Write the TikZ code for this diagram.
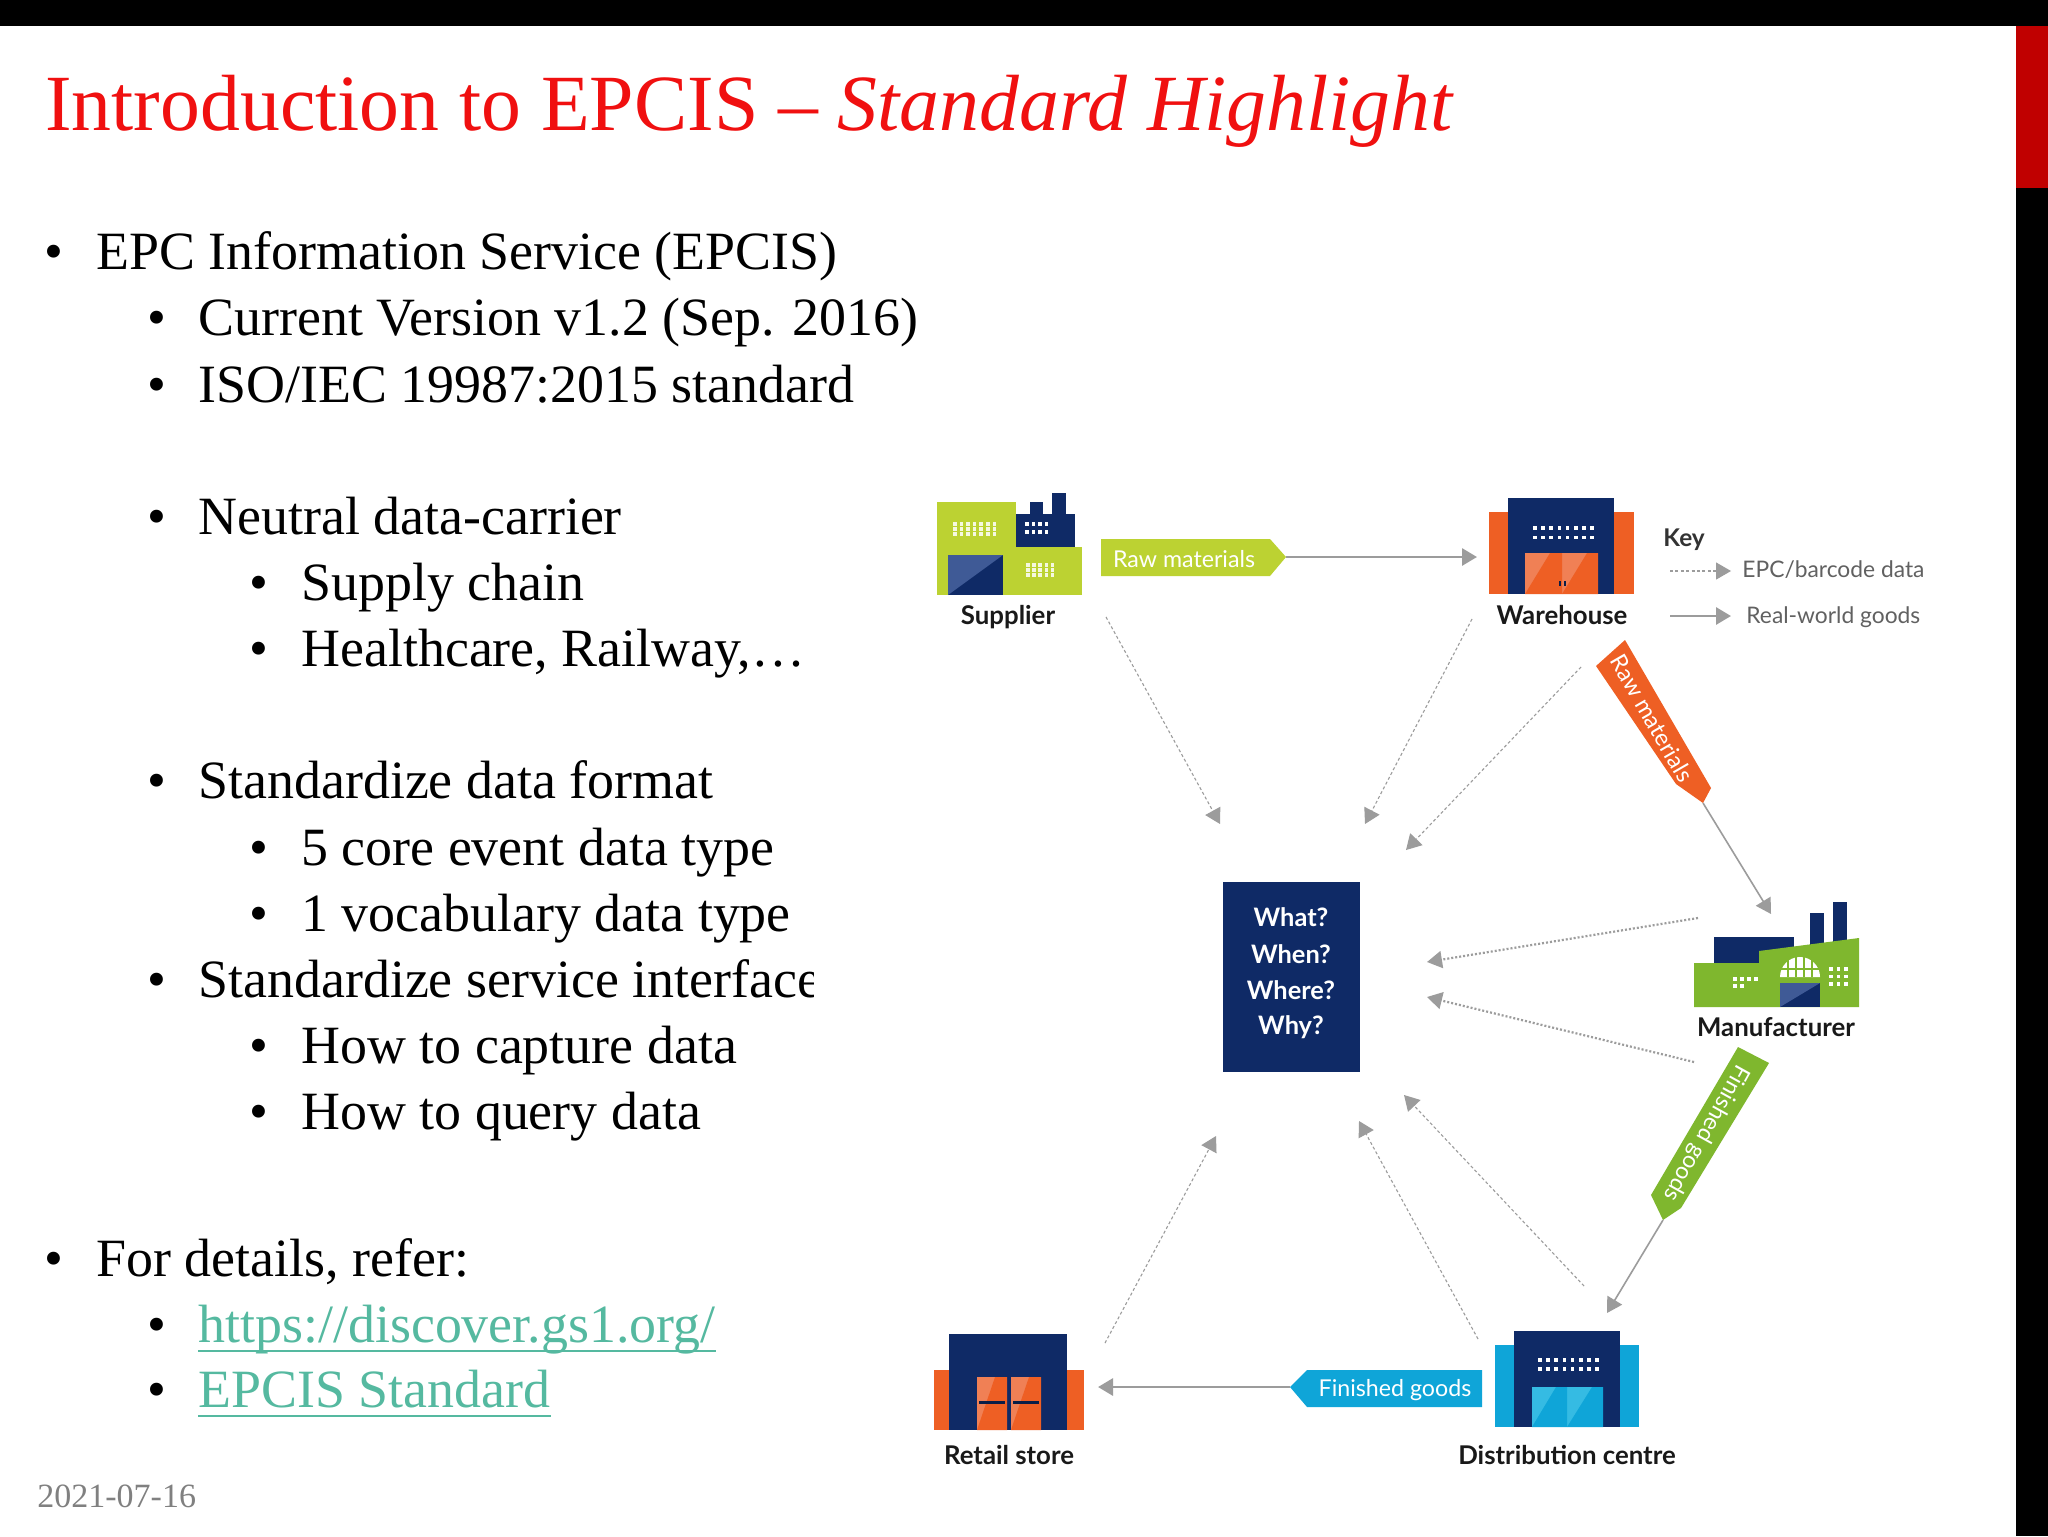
\documentclass[tikz,border=0pt]{standalone}
\usepackage{fontspec}
\setmainfont{Liberation Serif}
\newfontfamily\diag{Lato}
\usetikzlibrary{arrows.meta}
\definecolor{slidered}{HTML}{C00000}
\definecolor{titlered}{HTML}{F01010}
\definecolor{linkteal}{HTML}{55B9A0}
\definecolor{navy}{HTML}{0F2A66}
\definecolor{lime}{HTML}{BCD232}
\definecolor{leaf}{HTML}{7FB72E}
\definecolor{orng}{HTML}{EE5F24}
\definecolor{orngl}{HTML}{F08055}
\definecolor{sky}{HTML}{0FA5D8}
\definecolor{skyl}{HTML}{35BBE3}
\definecolor{doorl}{HTML}{3F5A96}
\definecolor{arrgray}{HTML}{9C9C9C}
\newcommand{\wingrid}[7]{\foreach \ix in {1,...,#3}{\foreach \iy in {1,...,#4}{
  \fill[#7] ({#1+(\ix-1)*#5},{#2+(\iy-1)*#6}) rectangle ++(3.6,3.6);}}}
\tikzset{
  x=0.5pt,y=-0.5pt,
  bodytext/.style={anchor=base west,inner sep=0pt,font=\fontsize{26.95}{27}\selectfont,text=black},
  bul/.style={anchor=base,inner sep=0pt,font=\fontsize{26.95}{27}\selectfont},
  linktext/.style={bodytext,text=linkteal},
  linkrule/.style={draw=linkteal,line width=1pt},
  lbl/.style={inner sep=0pt,font=\diag\bfseries\fontsize{12.9}{13}\selectfont,text=black!90},
  keytext/.style={inner sep=0pt,anchor=west,font=\diag\fontsize{11.4}{12}\selectfont,text=black!62},
  tagtext/.style={inner sep=0pt,font=\diag\fontsize{11.6}{12}\selectfont,text=white},
  qtext/.style={inner sep=0pt,font=\diag\bfseries\fontsize{12.7}{13}\selectfont,text=white},
  goods/.style={draw=arrgray,line width=1.4pt,-{Triangle[length=7.5pt,width=8.5pt]}},
  goodsthin/.style={draw=arrgray,line width=0.8pt,-{Triangle[length=7.5pt,width=8.5pt]}},
  epc/.style={draw=arrgray,line width=0.55pt,dash pattern=on 1.5pt off 1.2pt,-{Triangle[length=7.5pt,width=8.5pt]}},
  epcbold/.style={draw=arrgray,line width=1.1pt,dash pattern=on 1pt off 1pt,-{Triangle[length=7.5pt,width=8.5pt]}},
}
\begin{document}
\begin{tikzpicture}
\useasboundingbox (0,0) rectangle (2048,1536);
\fill[white] (0,0) rectangle (2048,1536);
% slide frame
\fill[black] (0,0) rectangle (2048,26);
\fill[black] (2016,0) rectangle (2048,1536);
\fill[slidered] (2016,26) rectangle (2048,188);
% title
\node[anchor=base west,inner sep=0pt,text=titlered,font=\fontsize{39.85}{42}\selectfont] (title) at (45,131) {Introduction to EPCIS -- \textit{Standard Highlight}};
% bullets
\foreach \bx/\by in {54/269,157/335,157/402,157/534,259/600,259/666,157/798,259/865,259/931,157/997,259/1063,259/1129,54/1276,157/1342,157/1407}{
  \node[bul] at (\bx,\by) {•};
}
\node[bodytext] (l1) at (96,269) {EPC Information Service (EPCIS)};
\node[bodytext] (l2) at (198,335) {Current Version v1.2 (Sep. 2016)};
\node[bodytext] (l3) at (198,402) {ISO/IEC 19987:2015 standard};
\node[bodytext] (l4) at (198,534) {Neutral data-carrier};
\node[bodytext] (l5) at (301,600) {Supply chain};
\node[bodytext] (l6) at (301,666) {Healthcare, Railway,\dots};
\node[bodytext] (l7) at (198,798) {Standardize data format};
\node[bodytext] (l8) at (301,865) {5 core event data type};
\node[bodytext] (l9) at (301,931) {1 vocabulary data type};
\begin{scope}
\clip (190,950) rectangle (813,1020);
\node[bodytext] (l10) at (198,997) {Standardize service interface};
\end{scope}
\node[bodytext] (l11) at (301,1063) {How to capture data};
\node[bodytext] (l12) at (301,1129) {How to query data};
\node[bodytext] (l13) at (96,1276) {For details, refer:};
\node[linktext] (l14) at (198,1342) {https://discover.gs1.org/};
\node[linktext] (l15) at (198,1407) {EPCIS Standard};
\draw[linkrule] ([yshift=-4.5pt]l14.base west) -- ([yshift=-4.5pt]l14.base east);
\draw[linkrule] ([yshift=-4.5pt]l15.base west) -- ([yshift=-4.5pt]l15.base east);
\node[anchor=base west,inner sep=0pt,text=black!50,font=\fontsize{17}{17}\selectfont] (date) at (37,1507) {2021-07-16};

% Supplier
\fill[lime] (937,502) rectangle (1016,595);
\fill[lime] (1016,547) rectangle (1082,595);
\fill[navy] (1016,514) rectangle (1075,547);
\fill[navy] (1030,502) rectangle (1043,514);
\fill[navy] (1052,493) rectangle (1066,514);
\fill[navy] (948,555) rectangle (1003,595);
\fill[doorl] (948,555) -- (1003,555) -- (948,595) -- cycle;
\wingrid{953}{522}{7}{3}{6.6}{5}{white!85!lime}
\wingrid{1025}{522}{4}{2}{6.6}{8}{white}
\wingrid{1026}{563}{5}{3}{6.2}{5}{white!85!lime}
\node[lbl] (supplier) at (1008,617) {Supplier};
% Warehouse
\fill[orng] (1489,512) rectangle (1634,594);
\fill[navy] (1508,498) rectangle (1614,594);
\fill[orngl] (1525,553) rectangle (1598,594);
\fill[orng] (1525,594) -- (1550,553) -- (1562,553) -- (1562,594) -- cycle;
\fill[orng] (1562,594) -- (1587,553) -- (1598,553) -- (1598,594) -- cycle;
\wingrid{1533}{526}{8}{2}{8.2}{9.5}{white}
\fill[navy!70!black] (1559,581) rectangle (1560.5,586);
\fill[navy!70!black] (1564,581) rectangle (1565.5,586);
\node[lbl] (warehouse) at (1562,615) {Warehouse};
% Key
\node[inner sep=0pt,anchor=west,font=\diag\bfseries\fontsize{12.2}{13}\selectfont,text=black!80] (key) at (1663,540) {Key};
\coordinate (k1a) at (1670,571); \coordinate (k1b) at (1731,571);
\coordinate (k2a) at (1670,616); \coordinate (k2b) at (1731,616);
\draw[epc] (k1a) -- (k1b);
\draw[goods] (k2a) -- (k2b);
\node[keytext] (kt1) at (1742,570) {EPC/barcode data};
\node[keytext] (kt2) at (1746,617) {Real-world goods};
% Raw materials tag
\fill[lime] (1101,539) -- (1270,539) -- (1286,557) -- (1270,576) -- (1101,576) -- cycle;
\node[tagtext] (rawtag) at (1184,559) {Raw materials};
\coordinate (rawtip) at (1286,557);
\coordinate (whin) at (1477,557);
\draw[goods] (rawtip) -- (whin);
% Raw materials orange tag
\fill[orng] (1596,666) -- (1625,640) -- (1711,788) -- (1703,803) -- (1676,784) -- cycle;
\node[tagtext,rotate=-60] (rawtag2) at (1652,718) {Raw materials};
\coordinate (rawtip2) at (1703,803);
\coordinate (mfin) at (1771,914);
\draw[goodsthin] (rawtip2) -- (mfin);
% What box
\node[fill=navy,minimum width=68.5pt,minimum height=95pt,inner sep=0pt] (box) at (1291,977) {};
\node[qtext] (q1) at (1291,917) {What?};
\node[qtext] (q2) at (1291,954) {When?};
\node[qtext] (q3) at (1291,990) {Where?};
\node[qtext] (q4) at (1291,1027) {Why?};
% Manufacturer
\fill[navy] (1714,937) rectangle (1794,965);
\fill[navy] (1810,913) rectangle (1824,946);
\fill[navy] (1833,902) rectangle (1847,942);
\fill[leaf] (1694,963) -- (1759,963) -- (1759,951) -- (1859,938) -- (1859,1007) -- (1694,1007) -- cycle;
\fill[white] (1780,977) arc[start angle=180,end angle=360,radius=20] -- cycle;
\foreach \mx in {1788,1796,1804,1812}{\draw[leaf,line width=0.6pt] (\mx,957) -- (\mx,977);}
\draw[leaf,line width=0.6pt] (1780,969) -- (1820,969);
\fill[navy] (1780,983) rectangle (1820,1007);
\fill[doorl] (1780,983) -- (1820,983) -- (1780,1007) -- cycle;
\wingrid{1733}{977}{4}{1}{7}{5}{white}
\wingrid{1733}{984}{2}{1}{7}{5}{white}
\wingrid{1829}{967}{3}{3}{7.5}{7.5}{white}
\node[lbl] (manuf) at (1776,1027) {Manufacturer};
% Finished goods green tag
\fill[leaf] (1738,1047) -- (1769,1063) -- (1681,1208) -- (1663,1220) -- (1651,1195) -- cycle;
\node[tagtext,rotate=-119] (fintag) at (1706,1133) {Finished goods};
\coordinate (fintip) at (1663,1220);
\coordinate (dcin) at (1607,1313);
\draw[goodsthin] (fintip) -- (dcin);
% Retail store
\fill[orng] (934,1370) rectangle (1084,1430);
\fill[navy] (949,1334) rectangle (1067,1430);
\fill[orngl] (977,1377) rectangle (1007,1430);
\fill[orngl] (1011,1377) rectangle (1041,1430);
\fill[orng] (977,1430) -- (995,1377) -- (1007,1377) -- (1007,1430) -- cycle;
\fill[orng] (1011,1430) -- (1029,1377) -- (1041,1377) -- (1041,1430) -- cycle;
\fill[navy!70!black] (979,1401) rectangle (1005,1403.5);
\fill[navy!70!black] (1013,1401) rectangle (1039,1403.5);
\node[lbl] (retail) at (1009,1455) {Retail store};
% Distribution centre
\fill[sky] (1495,1345) rectangle (1639,1427);
\fill[navy] (1514,1331) rectangle (1620,1427);
\fill[skyl] (1532,1387) rectangle (1603,1427);
\fill[sky] (1532,1427) -- (1556,1387) -- (1567,1387) -- (1567,1427) -- cycle;
\fill[sky] (1567,1427) -- (1592,1387) -- (1603,1387) -- (1603,1427) -- cycle;
\wingrid{1538}{1358}{8}{2}{8.2}{9}{white}
\node[lbl] (dc) at (1567,1455) {Distribution centre};
% Finished goods blue tag
\fill[sky] (1482,1370) -- (1307,1370) -- (1290,1387) -- (1307,1407) -- (1482,1407) -- cycle;
\node[tagtext] (fintag2) at (1395,1390) {Finished goods};
\coordinate (fintip2) at (1290,1387);
\coordinate (rsin) at (1098,1387);
\draw[goods] (fintip2) -- (rsin);
% EPC data arrows
\coordinate (sa) at (1106,617);  \coordinate (sb) at (1220,824);
\coordinate (wa) at (1472,619);  \coordinate (wb) at (1365,824);
\coordinate (xa) at (1581,667);  \coordinate (xb) at (1406,850);
\coordinate (ma) at (1698,918);  \coordinate (mb) at (1427,962);
\coordinate (na) at (1694,1062); \coordinate (nb) at (1427,997);
\coordinate (da) at (1584,1286); \coordinate (db) at (1404,1095);
\coordinate (ea) at (1478,1339); \coordinate (eb) at (1359,1121);
\coordinate (ra) at (1105,1343); \coordinate (rb) at (1216,1136);
\draw[epc] (sa) -- (sb);
\draw[epc] (wa) -- (wb);
\draw[epc] (xa) -- (xb);
\draw[epcbold] (ma) -- (mb);
\draw[epcbold] (na) -- (nb);
\draw[epc] (da) -- (db);
\draw[epc] (ea) -- (eb);
\draw[epc] (ra) -- (rb);
\end{tikzpicture}
\end{document}
